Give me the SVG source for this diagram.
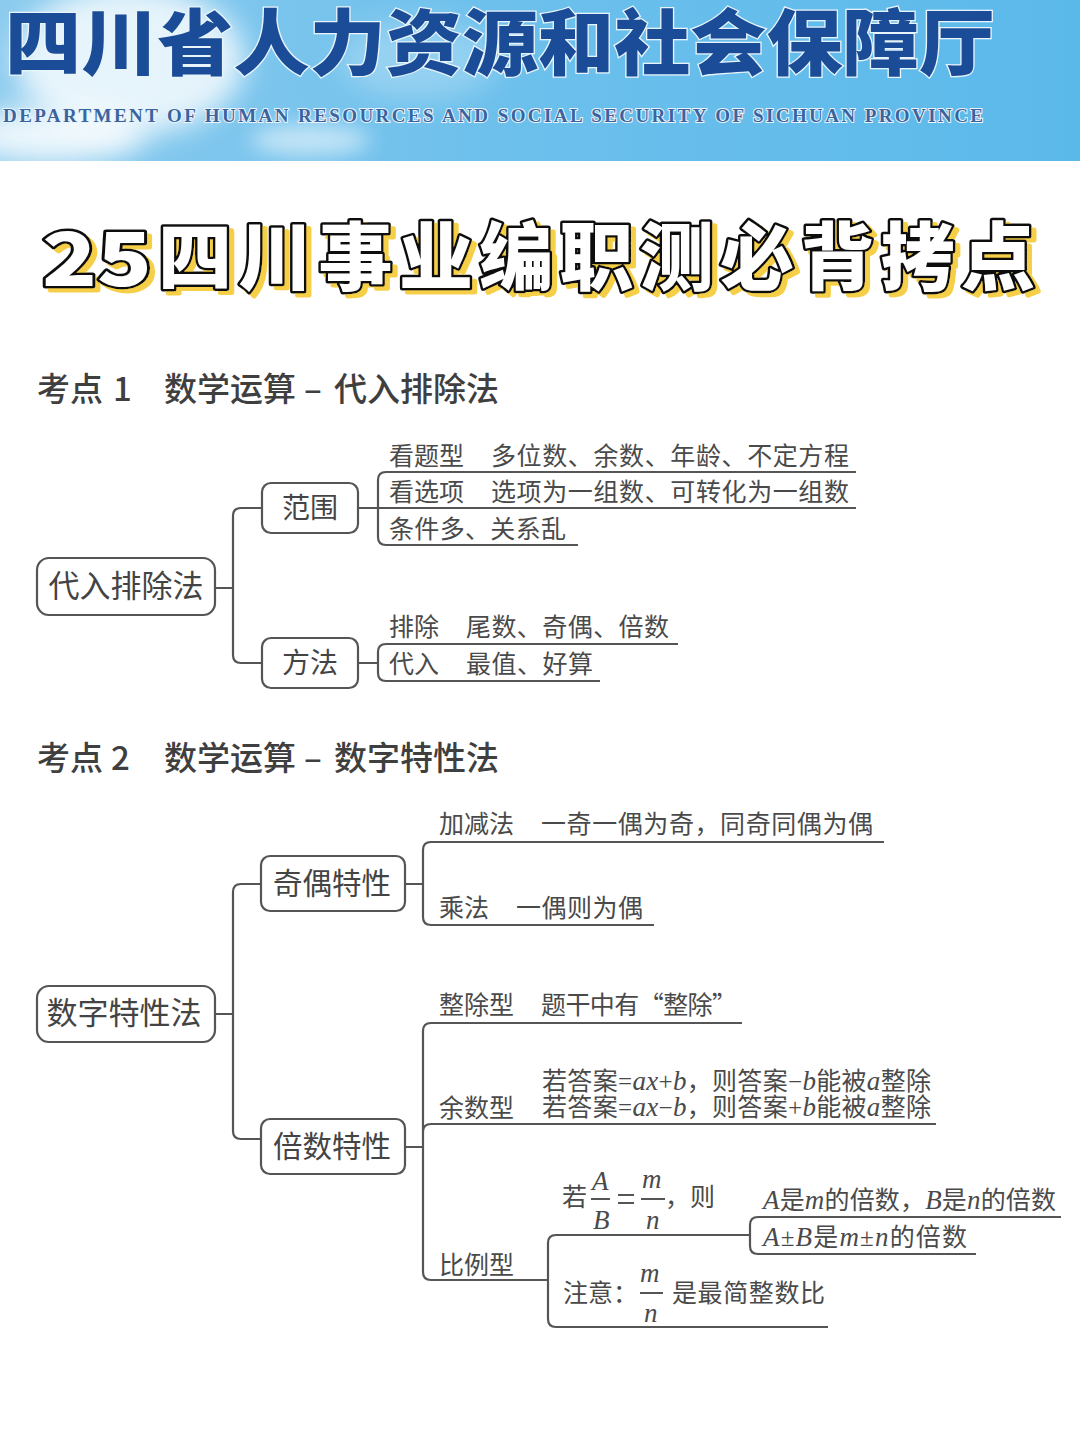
<svg xmlns="http://www.w3.org/2000/svg" width="1080" height="1439" viewBox="0 0 1080 1439">
<defs>
<linearGradient id="sky" x1="0" y1="0" x2="1" y2="0"><stop offset="0" stop-color="#8ccbee"/><stop offset="0.45" stop-color="#6dc0ec"/><stop offset="1" stop-color="#5bb9ea"/></linearGradient>
<filter id="soft" x="-40%" y="-40%" width="180%" height="180%"><feGaussianBlur stdDeviation="14"/></filter>
<filter id="soft2" x="-60%" y="-100%" width="220%" height="300%"><feGaussianBlur stdDeviation="10"/></filter>
<filter id="shadow" x="-5%" y="-20%" width="110%" height="140%"><feDropShadow dx="5" dy="4" stdDeviation="0.4" flood-color="#f6cf4a"/></filter>
</defs>
<style>
text{font-family:"Liberation Serif","Noto Sans CJK SC",serif;fill:#4a4a4a}
.t{font-size:25px}
.q{font-family:"Noto Sans CJK SC",sans-serif}
.n{text-anchor:middle;font-family:"Noto Sans CJK SC",sans-serif;fill:#444}
.h{font-size:33px;font-weight:500;font-family:"Noto Sans CJK SC",sans-serif;fill:#3f3f3f}
.b{fill:#fff;stroke:#555;stroke-width:2.2}
.c{fill:none;stroke:#555;stroke-width:2.2}
.f{fill:none;stroke:#555;stroke-width:1.8}
.i{font-style:italic;font-size:27px}
.banner{font-family:"Noto Sans CJK SC",sans-serif;font-size:72px;font-weight:900;fill:#1b4c97;stroke:#e8f4fb;stroke-width:2.5px;paint-order:stroke}
.sub{font-family:"Liberation Serif",serif;font-size:19px;font-weight:700;fill:#3a64a0;stroke:#eaf5fb;stroke-width:2px;paint-order:stroke}
.title{font-family:"Noto Sans CJK SC",sans-serif;font-size:74px;font-weight:900;paint-order:stroke;stroke-linejoin:round;fill:#fff;stroke:#111;stroke-width:5px}
</style>
<rect width="1080" height="1439" fill="#fff"/>
<g id="banner">
<rect width="1080" height="161" fill="url(#sky)"/>
<g fill="#fff">
<ellipse cx="130" cy="60" rx="115" ry="75" opacity=".8" filter="url(#soft)"/>
<ellipse cx="55" cy="135" rx="90" ry="28" opacity=".85" filter="url(#soft)"/>
<ellipse cx="310" cy="140" rx="60" ry="16" opacity=".55" filter="url(#soft2)"/>
<ellipse cx="420" cy="60" rx="80" ry="40" opacity=".25" filter="url(#soft)"/>
</g>
<text class="banner" x="5" y="69" textLength="990" lengthAdjust="spacingAndGlyphs">四川省人力资源和社会保障厅</text>
<text class="sub" x="3" y="122" textLength="980" lengthAdjust="spacing">DEPARTMENT OF HUMAN RESOURCES AND SOCIAL SECURITY OF SICHUAN PROVINCE</text>
</g>
<g id="title" filter="url(#shadow)">
<text class="title" x="42" y="286" textLength="110" lengthAdjust="spacingAndGlyphs">25</text>
<text class="title" x="158" y="284" textLength="877" lengthAdjust="spacing">四川事业编职测必背拷点</text>
</g>
<g id="heading1"><text class="h" y="401"><tspan x="37">考点</tspan><tspan x="113">1</tspan><tspan x="164">数学运算</tspan><tspan x="304">–</tspan><tspan x="334">代入排除法</tspan></text></g>
<g id="heading2"><text class="h" y="770"><tspan x="37">考点</tspan><tspan x="111">2</tspan><tspan x="164">数学运算</tspan><tspan x="304">–</tspan><tspan x="334">数字特性法</tspan></text></g>
<g id="connectors">
<path class="c" d="M215 588H233M262 508H241Q233 508 233 516V655Q233 663 241 663H262"/>
<path class="c" d="M358 508H856M856 472H386Q378 472 378 480V537Q378 545 386 545H578"/>
<path class="c" d="M358 663H378M678 644H386Q378 644 378 652V673Q378 681 386 681H600"/>
<path class="c" d="M215 1014H233M261 884H241Q233 884 233 892V1131Q233 1139 241 1139H261"/>
<path class="c" d="M405 884H423M884 842H431Q423 842 423 850V917Q423 925 431 925H654"/>
<path class="c" d="M405 1147H423M742 1023H431Q423 1023 423 1031V1272Q423 1280 431 1280H548M936 1124H431Q423 1124 423 1132"/>
<path class="c" d="M828 1327H556Q548 1327 548 1319V1243Q548 1235 556 1235H750M1061 1217H758Q750 1217 750 1225V1246Q750 1254 758 1254H976"/>
</g>
<g id="fractions">
<path class="f" d="M591 1199H610M641 1199H665M640 1293H663M618 1195H634M618 1203H634"/>
</g>
<g id="n-daoru"><rect class="b" x="37" y="558" width="178" height="57" rx="12"/><text class="n" x="126" y="597" font-size="31">代入排除法</text></g>
<g id="n-fanwei"><rect class="b" x="262" y="483" width="96" height="50" rx="9"/><text class="n" x="310" y="518" font-size="28">范围</text></g>
<g id="n-fangfa"><rect class="b" x="262" y="638" width="96" height="50" rx="9"/><text class="n" x="310" y="673" font-size="28">方法</text></g>
<g id="n-shuzi"><rect class="b" x="37" y="986" width="178" height="56" rx="12"/><text class="n" x="124" y="1024" font-size="31">数字特性法</text></g>
<g id="n-jiou"><rect class="b" x="261" y="856" width="144" height="55" rx="9"/><text class="n" x="332" y="894" font-size="29.5">奇偶特性</text></g>
<g id="n-beishu"><rect class="b" x="261" y="1119" width="144" height="55" rx="9"/><text class="n" x="332" y="1157" font-size="29.5">倍数特性</text></g>
<g id="labels">
<text class="t" x="389" y="465">看题型</text><text class="t" x="491" y="465" textLength="358">多位数、余数、年龄、不定方程</text>
<text class="t" x="389" y="501">看选项</text><text class="t" x="491" y="501" textLength="358">选项为一组数、可转化为一组数</text>
<text class="t" x="389" y="538" textLength="177">条件多、关系乱</text>
<text class="t" x="389" y="636">排除</text><text class="t" x="466" y="636" textLength="203">尾数、奇偶、倍数</text>
<text class="t" x="389" y="673">代入</text><text class="t" x="466" y="673" textLength="127">最值、好算</text>
<text class="t" x="439" y="833">加减法</text><text class="t" x="541" y="833" textLength="332">一奇一偶为奇，同奇同偶为偶</text>
<text class="t" x="439" y="917">乘法</text><text class="t" x="516" y="917" textLength="127">一偶则为偶</text>
<text class="t" x="439" y="1014">整除型</text><text class="t q" x="541" y="1014" textLength="196">题干中有“整除”</text>
<text class="t" x="439" y="1117">余数型</text>
<text class="t" x="542" y="1090" textLength="389">若答案=<tspan class="i">ax</tspan>+<tspan class="i">b</tspan>，则答案−<tspan class="i">b</tspan>能被<tspan class="i">a</tspan>整除</text>
<text class="t" x="542" y="1116" textLength="389">若答案=<tspan class="i">ax</tspan>−<tspan class="i">b</tspan>，则答案+<tspan class="i">b</tspan>能被<tspan class="i">a</tspan>整除</text>
<text class="t" x="439" y="1274">比例型</text>
<text class="t" x="562" y="1206">若</text>
<text class="i" x="592" y="1190">A</text><text class="i" x="593" y="1229">B</text>
<text class="i" x="642" y="1188">m</text><text class="i" x="646" y="1229">n</text>
<text class="t" x="665" y="1206">，</text><text class="t" x="690" y="1206">则</text>
<text class="t" x="763" y="1209" textLength="293"><tspan class="i">A</tspan>是<tspan class="i">m</tspan>的倍数，<tspan class="i">B</tspan>是<tspan class="i">n</tspan>的倍数</text>
<text class="t" x="763" y="1246" textLength="204"><tspan class="i">A</tspan>±<tspan class="i">B</tspan>是<tspan class="i">m</tspan>±<tspan class="i">n</tspan>的倍数</text>
<text class="t" x="563" y="1302">注意：</text>
<text class="i" x="640" y="1282">m</text><text class="i" x="644" y="1322">n</text>
<text class="t" x="672" y="1302" textLength="153">是最简整数比</text>
</g>
</svg>
